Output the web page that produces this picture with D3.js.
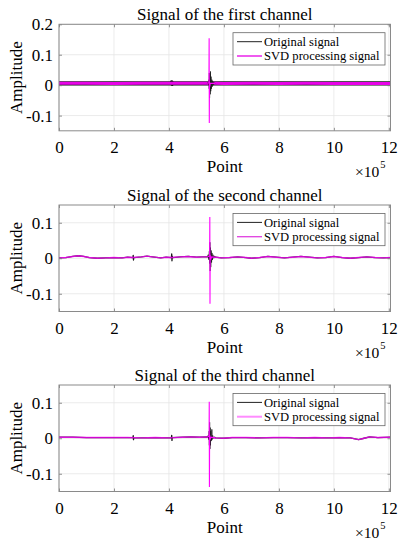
<!DOCTYPE html>
<html><head><meta charset="utf-8">
<script src="https://cdn.jsdelivr.net/npm/d3@7"></script>
<style>
body{margin:0;background:#fff}
svg{display:block}
text{font-family:"Liberation Serif","Times New Roman",serif;fill:#000}
</style>
</head><body>
<svg id="c" width="406" height="550"></svg>
<script>
// ---------- DATA (x in units of 10^5 points, y = amplitude) ----------
const titles = ["Signal of the first channel","Signal of the second channel","Signal of the third channel"];
const seriesNames = ["Original signal","SVD processing signal"];
const xTicks = [0,2,4,6,8,10,12];
const xTickLabels = ["0","2","4","6","8","10","12"];
const yDomains = [[-0.15,0.2],[-0.15,0.15],[-0.15,0.15]];
const yTicks1 = [-0.1,0,0.1,0.2];
const yTickLabels1 = ["-0.1","0","0.1","0.2"];
const yTicks23 = [-0.1,0,0.1];
const yTickLabels23 = ["-0.1","0","0.1"];

// channel 1 : baseline band
const ch1OrigBase = [[0,0.006],[1,0.006],[2,0.0058],[3,0.006],[4,0.0062],[4.08,0.006],[4.1,0.009],[4.12,0.004],[4.14,0.006],[5,0.006],[5.4,0.006],
  [5.7,0.006],[6,0.0058],[7,0.006],[8,0.0058],[9,0.006],[10,0.0058],[11,0.0058],[12.06,0.0058]];
const ch1SvdBase = [[0,0.006],[1,0.006],[2,0.0058],[3,0.006],[4,0.0062],[5,0.006],[5.4,0.006],
  [5.7,0.006],[6,0.0058],[7,0.006],[8,0.0058],[9,0.006],[10,0.0058],[11,0.0058],[12.06,0.0058]];
const ch1OrigSpike = [[5.40,0.006],[5.43,0.01],[5.445,0.0],[5.455,0.018],[5.465,-0.012],[5.47,0.04],[5.478,-0.042],[5.49,0.035],[5.50,-0.03],[5.51,0.045],[5.52,-0.02],[5.53,0.028],[5.545,-0.012],[5.56,0.018],[5.575,-0.005],[5.59,0.014],[5.61,0.0],[5.63,0.01],[5.66,0.004],[5.7,0.006]];
const ch1SvdSpike = [[5.40,0.006],[5.455,0.008],[5.462,0.154],[5.468,-0.124],[5.475,0.012],[5.49,-0.004],[5.5,0.006],[5.7,0.006]];

// channel 2
const ch2OrigBase = [[0,0.001],[0.25,0.002],[0.5,0.005],[0.7,0.007],[0.9,0.005],[1.1,0.002],[1.4,0.0],[1.7,0.001],[2.0,0.002],[2.3,0.001],[2.5,0.003],
  [2.69,0.002],[2.7,0.008],[2.71,-0.005],[2.72,0.002],[3.0,0.004],[3.2,0.006],[3.4,0.004],[3.7,0.001],[3.9,0.003],
  [4.09,0.002],[4.1,0.012],[4.11,-0.007],[4.12,0.006],[4.13,0.002],[4.4,0.004],[4.7,0.005],[5.0,0.003],[5.2,0.004],[5.4,0.004],
  [5.7,0.003],[5.9,0.001],[6.2,0.002],[6.5,0.004],[6.8,0.002],[7.0,0.0],[7.3,0.002],[7.6,0.005],[7.9,0.003],[8.2,0.001],[8.5,0.003],
  [8.8,0.005],[9.1,0.003],[9.4,0.001],[9.7,0.002],[10.0,0.005],[10.3,0.002],[10.6,0.0],[10.9,0.002],[11.2,0.004],[11.5,0.002],[11.8,0.001],[12.06,0.002]];
const ch2SvdBase = [[0,0.001],[0.25,0.002],[0.5,0.005],[0.7,0.007],[0.9,0.005],[1.1,0.002],[1.4,0.0],[1.7,0.001],[2.0,0.002],[2.3,0.001],[2.5,0.003],
  [2.7,0.002],[3.0,0.004],[3.2,0.006],[3.4,0.004],[3.7,0.001],[3.9,0.003],[4.1,0.002],[4.4,0.004],[4.7,0.005],[5.0,0.003],[5.2,0.004],[5.4,0.004],
  [5.7,0.003],[5.9,0.001],[6.2,0.002],[6.5,0.004],[6.8,0.002],[7.0,0.0],[7.3,0.002],[7.6,0.005],[7.9,0.003],[8.2,0.001],[8.5,0.003],
  [8.8,0.005],[9.1,0.003],[9.4,0.001],[9.7,0.002],[10.0,0.005],[10.3,0.002],[10.6,0.0],[10.9,0.002],[11.2,0.004],[11.5,0.002],[11.8,0.001],[12.06,0.002]];
const ch2OrigSpike = [[5.40,0.004],[5.43,0.01],[5.45,-0.004],[5.47,0.02],[5.48,-0.015],[5.49,0.045],[5.50,-0.036],[5.51,0.03],[5.52,-0.025],[5.535,0.022],[5.55,-0.012],[5.565,0.015],[5.58,-0.005],[5.60,0.01],[5.63,0.0],[5.66,0.006],[5.7,0.003]];
const ch2SvdSpike = [[5.40,0.004],[5.48,0.006],[5.487,0.116],[5.493,-0.128],[5.50,0.01],[5.52,-0.004],[5.55,0.004],[5.7,0.003]];

// channel 3
const ch3OrigBase = [[0,0.003],[0.5,0.003],[1,0.002],[1.5,0.002],[2,0.002],[2.5,0.002],[2.69,0.002],[2.7,0.007],[2.71,-0.004],[2.72,0.002],
  [3,0.001],[3.5,0.002],[4,0.001],[4.09,0.001],[4.1,0.008],[4.11,-0.006],[4.12,0.002],[4.5,0.003],[4.8,0.004],[5.1,0.003],[5.4,0.004],
  [5.7,0.001],[6.0,0.0],[6.3,0.002],[6.8,0.002],[7.3,0.001],[7.8,0.002],[8.3,0.002],[8.8,0.001],[9.3,0.002],[9.8,0.001],[10.2,0.002],
  [10.6,0.001],[10.9,-0.004],[11.1,0.0],[11.3,0.004],[11.6,0.002],[12.06,0.003]];
const ch3SvdBase = [[0,0.003],[0.5,0.003],[1,0.002],[1.5,0.002],[2,0.002],[2.5,0.002],[3,0.001],[3.5,0.002],[4,0.001],[4.5,0.003],[4.8,0.004],[5.1,0.003],[5.4,0.004],
  [5.7,0.001],[6.0,0.0],[6.3,0.002],[6.8,0.002],[7.3,0.001],[7.8,0.002],[8.3,0.002],[8.8,0.001],[9.3,0.002],[9.8,0.001],[10.2,0.002],
  [10.6,0.001],[10.9,-0.004],[11.1,0.0],[11.3,0.004],[11.6,0.002],[12.06,0.003]];
const ch3OrigSpike = [[5.40,0.004],[5.43,0.008],[5.45,-0.004],[5.46,0.02],[5.47,-0.02],[5.48,0.045],[5.49,-0.03],[5.50,0.03],[5.51,-0.02],[5.52,0.02],[5.53,-0.008],[5.535,0.006],[5.55,-0.006],[5.56,0.025],[5.57,-0.004],[5.59,0.008],[5.62,0.0],[5.66,0.004],[5.7,0.001]];
const ch3SvdSpike = [[5.40,0.004],[5.46,0.006],[5.466,0.103],[5.472,-0.137],[5.48,0.01],[5.50,-0.004],[5.53,0.003],[5.7,0.001]];

// ---------- LAYOUT / STYLE ----------
const panels = [
  {top:24.3, yDomain:yDomains[0], yTicks:yTicks1, yLabels:yTickLabels1, orig:[ch1OrigBase], origSpike:ch1OrigSpike, svd:[ch1SvdBase], svdSpike:ch1SvdSpike, baseW:[4.2,3], svdOp:0.9, legendSvd:"#e600e6"},
  {top:205,  yDomain:yDomains[1], yTicks:yTicks23, yLabels:yTickLabels23, orig:[ch2OrigBase], origSpike:ch2OrigSpike, svd:[ch2SvdBase], svdSpike:ch2SvdSpike, baseW:[1.3,1.4], svdOp:0.8, legendSvd:"#e040e0"},
  {top:385,  yDomain:yDomains[2], yTicks:yTicks23, yLabels:yTickLabels23, orig:[ch3OrigBase], origSpike:ch3OrigSpike, svd:[ch3SvdBase], svdSpike:ch3SvdSpike, baseW:[1.3,1.4], svdOp:0.8, legendSvd:"#ff8cff"}
];
const H = 106.5, L = 59, R = 390.5;
const FONT = '"Liberation Serif","Times New Roman",serif';
const svg = d3.select("#c");
const x = d3.scaleLinear().domain([0,12.06]).range([L,R]);

panels.forEach((p,i)=>{
  const top = p.top, bot = top + H;
  const y = d3.scaleLinear().domain(p.yDomain).range([bot,top]);
  const g = svg.append("g");

  // grid
  g.append("g").selectAll("line").data(xTicks).join("line")
    .attr("x1",d=>x(d)).attr("x2",d=>x(d)).attr("y1",top).attr("y2",bot)
    .attr("stroke","#e6e6e6").attr("stroke-width",0.8);
  g.append("g").selectAll("line").data(p.yTicks).join("line")
    .attr("x1",L).attr("x2",R).attr("y1",d=>y(d)).attr("y2",d=>y(d))
    .attr("stroke","#e6e6e6").attr("stroke-width",0.8);

  // clip
  const cid = "clip"+i;
  g.append("clipPath").attr("id",cid).append("rect").attr("x",L).attr("y",top).attr("width",R-L).attr("height",H);
  const plot = g.append("g").attr("clip-path",`url(#${cid})`);
  const line = d3.line().x(d=>x(d[0])).y(d=>y(d[1]));

  p.orig.forEach(s=>plot.append("path").attr("d",line(s)).attr("fill","none").attr("stroke","#1a1a1a").attr("stroke-width",p.baseW[0]).attr("stroke-linejoin","round"));
  p.svd.forEach(s=>plot.append("path").attr("d",line(s)).attr("fill","none").attr("stroke","#ff00ff").attr("stroke-opacity",p.svdOp).attr("stroke-width",p.baseW[1]).attr("stroke-linejoin","round"));
  plot.append("path").attr("d",line(p.origSpike)).attr("fill","none").attr("stroke","#1a1a1a").attr("stroke-opacity",0.8).attr("stroke-width",1);
  plot.append("path").attr("d",line(p.svdSpike)).attr("fill","none").attr("stroke","#ff00ff").attr("stroke-width",1.1);

  // axes
  const ax = g.append("g").attr("transform",`translate(0,${bot})`)
    .call(d3.axisBottom(x).tickValues(xTicks).tickFormat((d,k)=>xTickLabels[k]).tickSize(-3).tickPadding(10));
  const ay = g.append("g").attr("transform",`translate(${L},0)`)
    .call(d3.axisLeft(y).tickValues(p.yTicks).tickFormat((d,k)=>p.yLabels[k]).tickSize(-3).tickPadding(6));
  const at = g.append("g").attr("transform",`translate(0,${top})`)
    .call(d3.axisTop(x).tickValues(xTicks).tickFormat("").tickSize(-3));
  const ar = g.append("g").attr("transform",`translate(${R},0)`)
    .call(d3.axisRight(y).tickValues(p.yTicks).tickFormat("").tickSize(-3));
  [ax,ay,at,ar].forEach(a=>{
    a.attr("font-family",FONT).attr("font-size",17);
    a.select(".domain").remove();
    a.selectAll(".tick line").attr("stroke","#777").attr("stroke-width",0.8);
    a.selectAll("text").style("font-family",FONT).style("font-size","17px").attr("fill","#000");
  });
  g.append("rect").attr("x",L).attr("y",top).attr("width",R-L).attr("height",H)
    .attr("fill","none").attr("stroke","#8a8a8a").attr("stroke-width",1);

  // title
  g.append("text").attr("x",(L+R)/2).attr("y",top-4).attr("text-anchor","middle").style("font-size","17px").text(titles[i]);
  // x label
  g.append("text").attr("x",(L+R)/2).attr("y",bot+41).attr("text-anchor","middle").style("font-size","17px").text("Point");
  // exponent
  const ex = g.append("text").attr("x",355).attr("y",bot+46).style("font-size","15.5px");
  ex.append("tspan").text("\u00d710");
  ex.append("tspan").style("font-size","10.5px").attr("dy",-8.5).attr("dx",1).text("5");
  // y label
  g.append("text").attr("transform",`translate(21.5,${(top+bot)/2}) rotate(-90)`).attr("text-anchor","middle").style("font-size","17px").text("Amplitude");

  // legend
  const lg = g.append("g");
  lg.append("rect").attr("x",233).attr("y",top+8.4).attr("width",152).attr("height",32.3)
    .attr("fill","#fff").attr("stroke","#666").attr("stroke-width",0.8);
  const rows = [top+17.4, top+31.7];
  const cols = ["#222", p.legendSvd];
  const widths = [1, i===2?2:1.3];
  seriesNames.forEach((n,k)=>{
    lg.append("line").attr("x1",237).attr("x2",262).attr("y1",rows[k]).attr("y2",rows[k]).attr("stroke",cols[k]).attr("stroke-width",widths[k]);
    lg.append("text").attr("x",264).attr("y",rows[k]+4.3).style("font-size","12.6px").text(n);
  });
});
</script>
</body></html>
